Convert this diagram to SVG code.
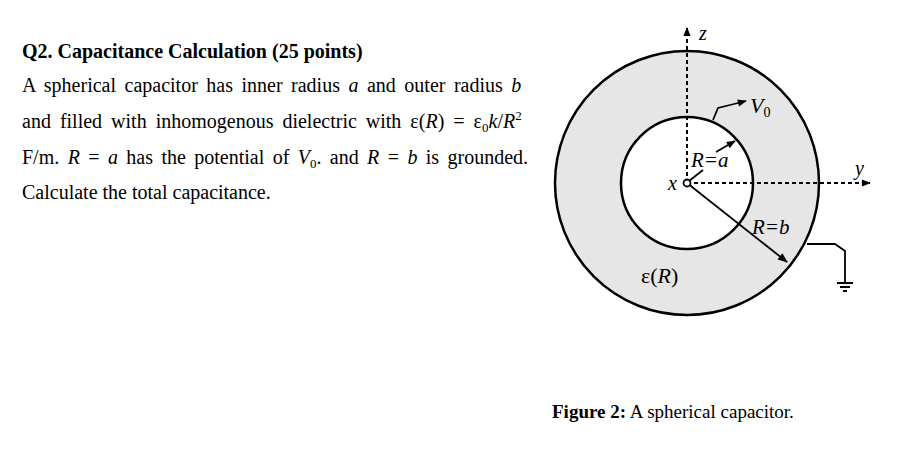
<svg xmlns="http://www.w3.org/2000/svg" width="901" height="473" viewBox="0 0 901 473">
<defs>
<style>
text{font-family:"Liberation Serif","Times New Roman",serif;fill:#000}
.t{font-size:20px}
.i{font-style:italic}
.ax{stroke:#000;stroke-width:2;stroke-dasharray:4,3;fill:none}
.ln{stroke:#000;stroke-width:1.8;fill:none}
</style>
<marker id="ah" viewBox="0 0 10 10" refX="9" refY="5" markerWidth="10" markerHeight="9" orient="auto" markerUnits="userSpaceOnUse"><path d="M0,1 L10,5 L0,9 z" fill="#000"/></marker>
<marker id="ab" viewBox="0 0 10 10" refX="9" refY="5" markerWidth="12" markerHeight="10" orient="auto" markerUnits="userSpaceOnUse"><path d="M0,1 L10,5 L0,9 z" fill="#000"/></marker>
</defs>
<rect width="901" height="473" fill="#fff"/>
<g id="question">
<text x="22" y="58" class="t" font-weight="bold">Q2. Capacitance Calculation (25 points)</text>
<text x="22" y="92" class="t" word-spacing="3.5">A spherical capacitor has inner radius <tspan class="i">a</tspan> and outer radius <tspan class="i">b</tspan></text>
<text x="22" y="128" class="t" word-spacing="4">and filled with inhomogenous dielectric with ε(<tspan class="i">R</tspan>) = ε<tspan font-size="13" dy="4">0</tspan><tspan dy="-4" class="i">k</tspan>/<tspan class="i">R</tspan><tspan font-size="13" dy="-8">2</tspan></text>
<text x="22" y="164" class="t" word-spacing="3.4">F/m. <tspan class="i">R</tspan> = <tspan class="i">a</tspan> has the potential of <tspan class="i">V</tspan><tspan font-size="13" dy="4">0</tspan><tspan dy="-4">. and </tspan><tspan class="i">R</tspan> = <tspan class="i">b</tspan> is grounded.</text>
<text x="22" y="199" class="t">Calculate the total capacitance.</text>
</g>
<g id="outer-sphere"><circle cx="687" cy="183" r="132" fill="#e6e6e6" stroke="#000" stroke-width="2.5"/></g>
<g id="inner-sphere"><circle cx="687" cy="183" r="66" fill="#fff" stroke="#000" stroke-width="2.5"/></g>
<g id="connectors">
<line class="ax" x1="687" y1="183" x2="687" y2="28" marker-end="url(#ah)"/>
<line class="ax" x1="687" y1="183" x2="870" y2="183" marker-end="url(#ah)"/>
<line class="ln" x1="687" y1="183" x2="787" y2="262" marker-end="url(#ab)"/>
<path class="ln" d="M713,120 L718,108 L730,105 L746,101" marker-end="url(#ah)"/>
<path class="ln" d="M689,181 L703,170"/>
<path class="ln" d="M716,152 L735,141" marker-end="url(#ah)"/>
<path class="ln" d="M807,244 L835,244 L845,251 L845,282"/>
<path class="ln" d="M837,283 H853 M840,287 H850 M843,291 H847"/>
<circle cx="687" cy="183" r="3.5" fill="#fff" stroke="#000" stroke-width="1.8"/>
</g>
<g id="labels">
<text x="699" y="40" font-size="20" class="i">z</text>
<text x="855" y="175" font-size="20" class="i">y</text>
<text x="668" y="190" font-size="20" class="i">x</text>
<text x="750" y="113" font-size="22" class="i">V<tspan font-size="14" dy="4" font-style="normal">0</tspan></text>
<text x="691" y="167" font-size="21" class="i">R=a</text>
<text x="752" y="234" font-size="21" class="i">R=b</text>
<text x="641" y="283" font-size="22">ε(<tspan class="i">R</tspan>)</text>
</g>
<g id="caption"><text x="552" y="418" font-size="19"><tspan font-weight="bold">Figure 2:</tspan> A spherical capacitor.</text></g>
</svg>
